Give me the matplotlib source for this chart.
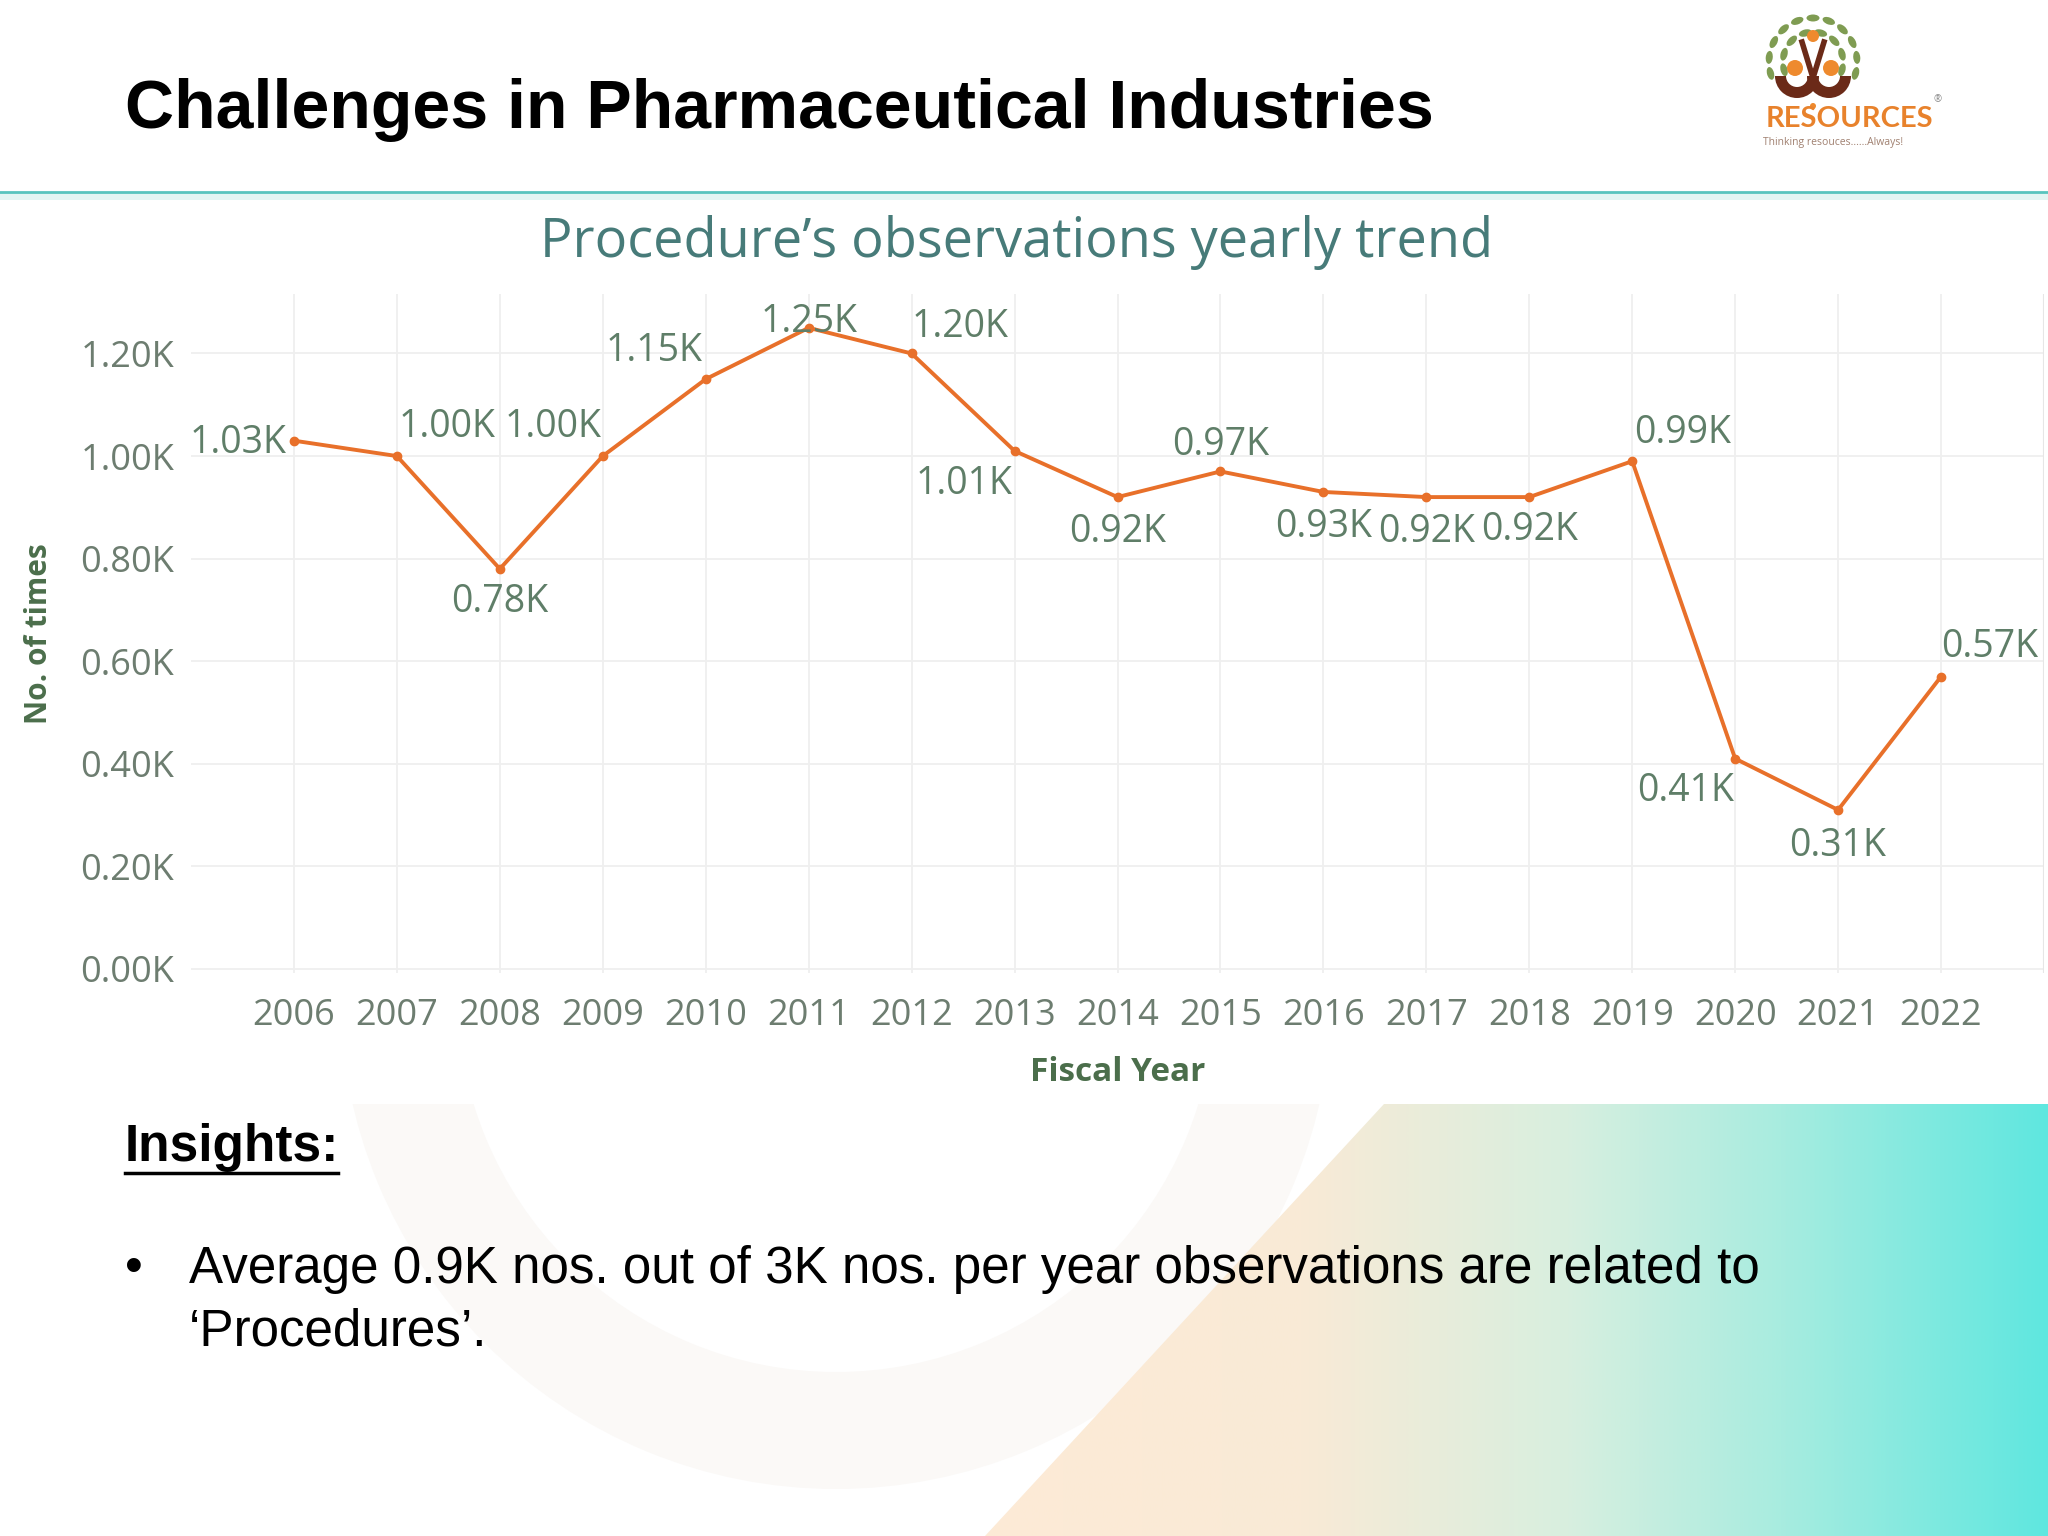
import numpy as np
import matplotlib
matplotlib.use("Agg")
import matplotlib.pyplot as plt
from matplotlib.patches import Polygon, Wedge, Rectangle, Ellipse, Circle
from matplotlib.colors import LinearSegmentedColormap
from matplotlib.ticker import FuncFormatter

# data
years = ["2006", "2007", "2008", "2009", "2010", "2011", "2012", "2013", "2014",
         "2015", "2016", "2017", "2018", "2019", "2020", "2021", "2022"]
observations = [1030, 1000, 780, 1000, 1150, 1250, 1200, 1010, 920,
                970, 930, 920, 920, 990, 410, 310, 570]
y_ticks = [0, 200, 400, 600, 800, 1000, 1200]

# where each data label sits relative to its point (points)
label_offsets = [(-40, -2), (36, 21), (0, -24), (-36, 21), (-37, 20), (0, 4), (35, 19),
                 (-36, -24), (0, -25), (0, 19), (0, -25), (0, -25), (0, -24),
                 (36, 20), (-36, -23), (0, -26), (35, 21)]

plt.rcParams['font.family'] = ['Open Sans', 'DejaVu Sans']

fig = plt.figure(figsize=(20.48, 15.36), dpi=100, facecolor='white')

# slide background, in pixel coordinates
bg = fig.add_axes([0, 0, 1, 1])
bg.axis('off')

ring = Wedge((836, 993), 496, 0, 360, width=117, facecolor='#fbf9f7', edgecolor='none', zorder=1)
bg.add_patch(ring)

cmap = LinearSegmentedColormap.from_list('slide', [(0, '#fdebd6'), (0.3, '#f9ead6'), (0.55, '#d8efdf'),
                                                   (0.75, '#a8ecdf'), (1, '#5fe7df')])
grad = np.linspace(0, 1, 512).reshape(1, -1)
im = bg.imshow(grad, cmap=cmap, extent=[980, 2048, 1536, 1104], aspect='auto', zorder=2)
shape = Polygon([(1384, 1104), (2048, 1104), (2048, 1536), (985, 1536)], closed=True,
                facecolor='none', edgecolor='none')
bg.add_patch(shape)
im.set_clip_path(shape)

bg.add_patch(Rectangle((0, 195), 2048, 909, facecolor='white', edgecolor='none', zorder=3))
bg.add_patch(Rectangle((0, 193), 2048, 7, facecolor='#e3f5f3', edgecolor='none', zorder=3.5))
bg.plot([0, 2048], [192, 192], color='#58c4be', lw=2, zorder=4)

bg.set_xlim(0, 2048)
bg.set_ylim(1536, 0)

bg.text(125, 110, 'Challenges in Pharmaceutical Industries', fontsize=49, fontweight='bold',
        family='Liberation Sans', va='center', ha='left', color='black', zorder=5)

# logo
for r, n in [(44, 11), (30, 8)]:
    for a in np.linspace(-15, 195, n):
        t = np.radians(a)
        bg.add_patch(Ellipse((1813 + r * np.cos(t), 62 - r * np.sin(t)), 13, 7, angle=-a + 90,
                             facecolor='#7f9c52', edgecolor='none', zorder=5))
bg.add_patch(Wedge((1797, 76), 22, 0, 180, width=11, facecolor='#6b2a18', zorder=5))
bg.add_patch(Wedge((1829, 76), 22, 0, 180, width=11, facecolor='#6b2a18', zorder=5))
bg.plot([1802, 1813, 1824], [42, 78, 42], color='#6b2a18', lw=4, zorder=5)
bg.add_patch(Circle((1813, 36), 6, facecolor='#ee8a2e', zorder=6))
bg.add_patch(Circle((1795, 68), 8, facecolor='#ee8a2e', zorder=6))
bg.add_patch(Circle((1831, 68), 8, facecolor='#ee8a2e', zorder=6))
bg.add_patch(Circle((1813, 106), 3, facecolor='#ee8a2e', zorder=6))
bg.text(1849, 119, 'RESOURCES', ha='center', va='center', fontsize=21, fontweight='bold',
        family='Lato', color='#e8822c', zorder=6)
bg.text(1938, 100, '®', fontsize=7, color='#888888', ha='center', va='center', zorder=6)
bg.text(1763, 142, 'Thinking resouces......Always!', fontsize=7.5, color='#a08070',
        ha='left', va='center', zorder=6)

bg.text(1017, 243, 'Procedure’s observations yearly trend', ha='center', va='center',
        fontsize=39, color='#477b79', zorder=6)

# chart
ax = fig.add_axes([191 / 2048, 1 - 973 / 1536, (2044 - 191) / 2048, (973 - 294) / 1536])
ax.set_facecolor('white')
x = np.arange(len(years))
ax.plot(x, observations, color='#e8702a', lw=2.8, marker='o', ms=6, zorder=3)
for xi, v, off in zip(x, observations, label_offsets):
    ax.annotate(f"{v / 1000:.2f}K", (xi, v), xytext=off, textcoords='offset points',
                ha='center', va='center', fontsize=27, color='#5f7e68', zorder=4)

ax.set_xlim(-1.0, 17.0)
ax.set_ylim(-8, 1316)
ax.set_xticks(x, years)
ax.set_yticks(y_ticks)
ax.yaxis.set_major_formatter(FuncFormatter(lambda v, p: f"{v / 1000:.2f}K"))
ax.grid(color='#efefef', lw=1.3)
ax.axvline(17, color='#e6e6e6', lw=1.5)
for s in ax.spines.values():
    s.set_visible(False)
ax.tick_params(axis='both', length=0)
ax.tick_params(axis='y', pad=12, labelsize=26, labelcolor='#6d7d70')
ax.tick_params(axis='x', pad=18, labelsize=26, labelcolor='#6d7d70')

ax.set_xlabel('Fiscal Year', fontsize=24, fontweight='bold', color='#4b6e4b')
ax.xaxis.label.set_va('center')
ax.xaxis.set_label_coords(0.5, -0.146)
ax.set_ylabel('No. of times', fontsize=21.5, fontweight='bold', color='#4b6e4b')
ax.yaxis.label.set_va('center')
ax.yaxis.set_label_coords(-0.082, 0.5)

# insights text
bg.text(125, 1147, 'Insights:', fontsize=37, fontweight='bold', family='Liberation Sans',
        va='center', ha='left', zorder=6)
bg.plot([125, 338], [1173, 1173], color='black', lw=2.5, zorder=6)
bg.text(134, 1269, '•', fontsize=36.5, ha='center', va='center', family='Liberation Sans', zorder=6)
bg.text(189, 1269, 'Average 0.9K nos. out of 3K nos. per year observations are related to',
        fontsize=36.8, va='center', ha='left', family='Liberation Sans', zorder=6)
bg.text(189, 1332, '‘Procedures’.', fontsize=36.8, va='center', ha='left',
        family='Liberation Sans', zorder=6)

fig.savefig('out.png', dpi=100, facecolor='white')
